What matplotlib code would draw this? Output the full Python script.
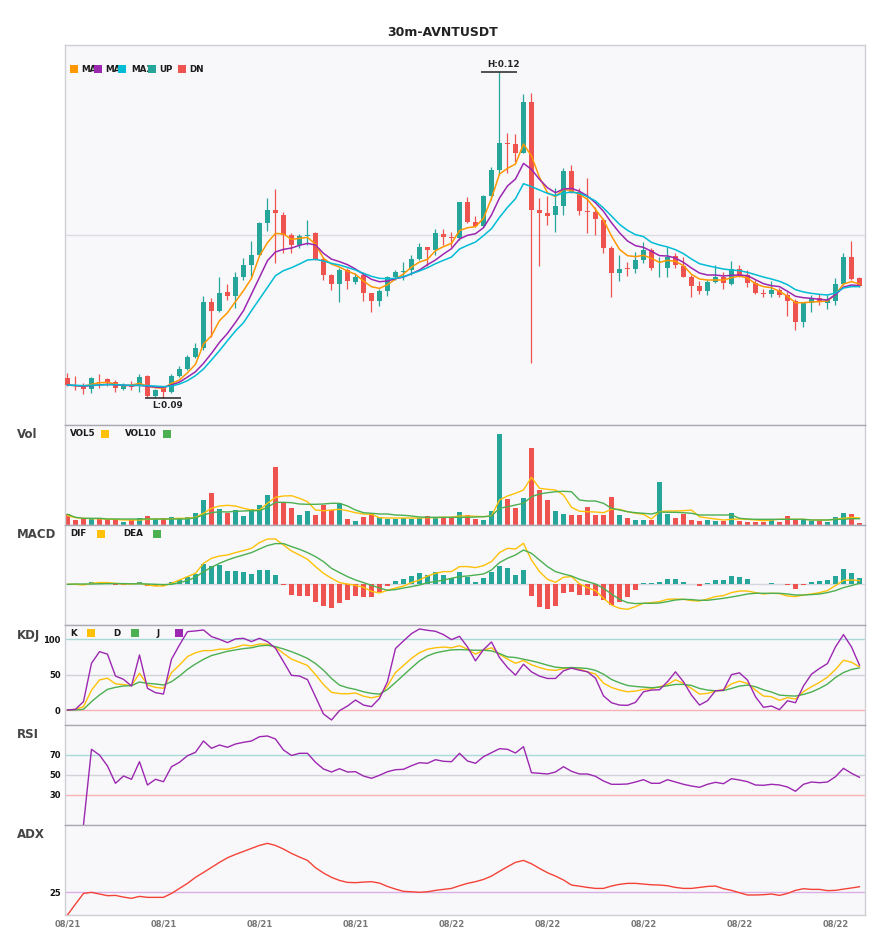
import numpy as np
import matplotlib.pyplot as plt
from matplotlib.patches import Rectangle
from matplotlib.transforms import Bbox

# candle prices, in units of 0.0001 USDT
opens = [918.1, 912.0, 910.5, 908.6, 915.0, 917.2, 914.7, 908.6, 911.4, 911.0,
         920.3, 901.9, 908.9, 905.8, 920.3, 926.7, 937.4, 945.7, 988.3, 980.4,
         997.6, 993.9, 1011.7, 1022.4, 1031.6, 1061.3, 1073.0, 1068.4, 1050.0, 1040.8,
         1049.1, 1051.5, 1027.6, 1013.2, 1004.9, 1017.8, 1007.1, 1013.2, 996.3, 989.6,
         998.8, 1011.0, 1015.9, 1017.8, 1027.9, 1038.6, 1036.2, 1050.9, 1047.8, 1046.9,
         1080.0, 1061.6, 1058.6, 1085.9, 1109.8, 1134.9, 1133.7, 1125.7, 1172.0, 1073.0,
         1070.5, 1068.4, 1076.7, 1108.9, 1089.9, 1072.4, 1071.5, 1063.8, 1038.3, 1014.7,
         1019.9, 1019.0, 1027.0, 1036.2, 1019.3, 1019.9, 1030.7, 1021.5, 1011.7, 1003.4,
         998.8, 1007.1, 1011.7, 1004.9, 1018.4, 1013.2, 1006.1, 996.3, 995.7, 999.4,
         994.8, 989.3, 970.3, 987.7, 991.7, 987.7, 989.6, 1004.9, 1030.1, 1010.8]
highs = [922.7, 920.3, 913.5, 919.7, 922.1, 918.1, 916.6, 914.1, 916.0, 921.8,
         921.2, 908.0, 910.5, 922.1, 929.5, 939.6, 950.3, 993.9, 991.7, 1011.7,
         1004.9, 1016.3, 1028.5, 1044.5, 1062.3, 1084.3, 1092.3, 1071.5, 1051.5, 1050.6,
         1063.8, 1053.1, 1029.4, 1014.1, 1019.3, 1019.3, 1014.7, 1016.2, 996.9, 1000.0,
         1012.3, 1017.8, 1025.4, 1031.6, 1042.9, 1039.2, 1055.2, 1055.2, 1053.1, 1080.7,
         1084.6, 1067.5, 1086.8, 1112.2, 1200.3, 1143.5, 1142.9, 1179.7, 1180.3, 1083.7,
         1085.9, 1092.9, 1111.3, 1114.4, 1092.9, 1102.1, 1076.0, 1065.3, 1039.9, 1031.6,
         1025.4, 1034.0, 1043.2, 1037.7, 1030.1, 1038.6, 1033.1, 1029.4, 1013.2, 1008.0,
         1008.6, 1022.4, 1015.6, 1026.1, 1022.4, 1017.8, 1008.6, 1000.0, 1008.0, 1000.9,
         997.9, 990.8, 988.6, 994.8, 995.7, 994.8, 1010.1, 1033.1, 1044.5, 1011.7]
lows = [911.0, 907.4, 903.7, 904.9, 908.9, 911.0, 905.8, 907.4, 907.4, 905.8,
        901.3, 901.3, 899.7, 904.9, 919.7, 925.8, 936.5, 944.2, 956.4, 979.5,
        990.2, 982.5, 1008.6, 1011.7, 1030.7, 1053.7, 1024.5, 1033.1, 1033.1, 1037.7,
        1040.8, 1027.0, 1008.6, 999.4, 988.6, 1000.0, 1004.9, 989.6, 979.4, 984.7,
        993.9, 1008.6, 1008.6, 1013.2, 1027.0, 1021.5, 1031.6, 1040.8, 1039.2, 1045.4,
        1060.7, 1057.6, 1057.6, 1082.2, 1105.2, 1106.7, 1117.5, 1125.1, 931.9, 1021.5,
        1059.2, 1053.1, 1068.4, 1088.9, 1068.4, 1052.1, 1050.0, 1033.1, 993.3, 1008.0,
        1012.3, 1015.3, 1024.5, 1017.8, 1011.0, 1011.0, 1019.3, 1011.0, 993.3, 995.7,
        994.8, 1005.5, 1000.3, 1004.0, 1011.0, 1002.5, 995.7, 992.6, 993.3, 992.6,
        975.5, 962.6, 965.0, 979.5, 985.6, 981.6, 985.6, 1004.0, 1008.6, 1002.5]
closes = [912.0, 911.0, 908.0, 918.1, 914.1, 913.5, 908.9, 912.0, 910.5, 919.7,
          901.9, 907.4, 905.8, 920.3, 926.7, 937.4, 945.7, 988.7, 980.4, 996.3,
          994.2, 1011.7, 1022.4, 1031.6, 1061.3, 1073.0, 1069.9, 1050.0, 1040.8, 1049.1,
          1050.0, 1027.6, 1013.2, 1004.9, 1017.8, 1008.0, 1011.0, 996.9, 989.6, 998.5,
          1011.0, 1015.9, 1017.2, 1027.6, 1038.6, 1036.2, 1051.5, 1048.5, 1046.9, 1080.0,
          1061.6, 1058.6, 1085.9, 1109.8, 1134.3, 1133.7, 1125.7, 1172.0, 1073.0, 1070.5,
          1067.5, 1076.7, 1108.9, 1089.9, 1072.4, 1071.5, 1064.4, 1038.3, 1014.7, 1018.7,
          1019.0, 1027.0, 1036.2, 1019.3, 1019.9, 1030.1, 1022.4, 1011.7, 1003.4, 998.8,
          1007.1, 1011.7, 1005.5, 1018.4, 1012.3, 1006.1, 996.9, 995.7, 999.4, 994.8,
          989.3, 970.3, 987.7, 991.7, 988.6, 990.2, 1004.9, 1030.1, 1009.2, 1003.4]

ma5 = [912, 911.4, 911, 912.6, 914.1, 914.4, 912.9, 911.4, 912, 913.5,
       911, 909.5, 908.9, 913.5, 916.6, 923.3, 931, 949.7, 957.4, 971.2,
       978.5, 988.7, 998.8, 1010.1, 1030.7, 1043, 1051.5, 1050.9, 1046, 1046.9,
       1047.8, 1041.7, 1028.5, 1023.2, 1020.5, 1016.9, 1013.8, 1007.7, 1002.4, 1000.9,
       1004.3, 1009.5, 1014.1, 1020.5, 1025.1, 1027.6, 1035.6, 1039.3, 1042.3, 1054,
       1056.7, 1057.7, 1065.3, 1083.7, 1106.1, 1111.3, 1115.3, 1133.7, 1122.7, 1103,
       1088.9, 1085.3, 1092.3, 1090.5, 1087.4, 1082.8, 1073.6, 1063.8, 1049.1, 1036.8,
       1031, 1030.1, 1031.3, 1028.5, 1024.8, 1026.7, 1025.8, 1021.8, 1013.8, 1009.5,
       1008.6, 1008.6, 1008.6, 1010.7, 1012.3, 1010.4, 1005.2, 1002.5, 1001.5, 998.2,
       993.6, 987.7, 987.7, 988.4, 988.7, 989.3, 995.4, 1004.9, 1007.1, 1004.9]
ma10 = [912, 911.4, 911, 911.4, 912, 912.6, 912.3, 911.7, 911.4, 911.7,
        910.8, 910.1, 909.8, 912, 914.7, 919.3, 924.2, 931.9, 941.1, 951.2,
        959.5, 969.6, 980.4, 995.7, 1011, 1026.4, 1034.4, 1036.8, 1038, 1040.5,
        1042.3, 1040.8, 1033.1, 1027.8, 1025.5, 1022.7, 1018.7, 1013.8, 1009.2, 1007,
        1007.7, 1009.8, 1011.3, 1014.4, 1017.8, 1022.7, 1027, 1032.5, 1037.4, 1046.3,
        1049.7, 1051.2, 1056.7, 1068.4, 1084, 1095.1, 1101.5, 1115.9, 1110.4, 1101.2,
        1093.5, 1088.9, 1092.3, 1092.9, 1090.2, 1085.9, 1079.6, 1071.8, 1061.3, 1052.1,
        1044.5, 1040.2, 1038.6, 1035, 1031, 1030.7, 1028.8, 1024.8, 1019.6, 1015,
        1013.2, 1013.2, 1012.3, 1012.9, 1013.2, 1012.6, 1008.9, 1005.2, 1003.4, 1002.5,
        998.2, 993.6, 992.3, 991.7, 990.8, 990.2, 995.1, 1002.1, 1004, 1003.4]
ma20 = [912, 911.7, 911.4, 911.7, 912, 912.3, 912.3, 912, 911.7, 911.7,
        911.4, 911, 910.5, 911, 912.9, 916, 920.6, 926.7, 935, 943.6,
        952.8, 961.7, 969.3, 980.4, 991.1, 1001.8, 1012.6, 1017.2, 1019.9, 1023.3,
        1027, 1027.6, 1026.1, 1023.9, 1022.4, 1020.2, 1017.8, 1014.7, 1012, 1010.1,
        1009.8, 1010.1, 1011.6, 1014.4, 1016.9, 1019.9, 1023.6, 1026.7, 1029.7, 1037.1,
        1040.5, 1043.5, 1049.4, 1055.8, 1066.2, 1075.4, 1083.4, 1097.2, 1094.5, 1091.4,
        1088.3, 1086.2, 1088.6, 1089.5, 1088.3, 1085.3, 1081.3, 1074.8, 1067.5, 1059.8,
        1054.3, 1050.3, 1048.5, 1043.2, 1040.8, 1039, 1036.5, 1032.8, 1027.9, 1023.6,
        1021.8, 1020.2, 1018.7, 1017.8, 1017.2, 1015.6, 1013.5, 1011.3, 1009.5, 1007.4,
        1004.3, 999.7, 997.6, 996.3, 995.4, 994.8, 996.6, 1001.2, 1002.5, 1002.5]

# volume in thousands
volume = [107, 50, 67, 67, 63, 57, 57, 33, 50, 67,
          90, 57, 67, 77, 73, 77, 117, 250, 320, 157,
          123, 150, 90, 157, 200, 300, 580, 223, 173, 100,
          143, 100, 200, 150, 217, 60, 40, 83, 110, 77,
          63, 60, 73, 60, 73, 90, 83, 77, 73, 130,
          100, 60, 50, 140, 910, 260, 173, 270, 770, 350,
          250, 140, 110, 100, 100, 177, 100, 100, 280, 100,
          70, 50, 50, 53, 430, 110, 70, 110, 50, 40,
          50, 40, 40, 117, 40, 30, 30, 30, 60, 33,
          90, 50, 50, 40, 40, 30, 80, 120, 110, 20]
vol5 = [93, 73, 67, 63, 63, 57, 57, 50, 50, 50,
        57, 60, 60, 63, 67, 67, 77, 117, 167, 190,
        197, 190, 167, 150, 150, 217, 277, 290, 293, 267,
        233, 150, 143, 150, 157, 143, 123, 110, 107, 73,
        70, 70, 70, 70, 70, 73, 73, 77, 77, 90,
        90, 87, 83, 90, 250, 290, 317, 350, 477, 367,
        357, 350, 300, 177, 138, 133, 130, 123, 157, 157,
        133, 117, 107, 60, 133, 140, 140, 143, 150, 83,
        70, 60, 50, 57, 60, 57, 50, 43, 50, 57,
        57, 57, 57, 50, 50, 50, 57, 67, 77, 70]
vol10 = [107, 77, 67, 67, 67, 60, 60, 60, 60, 60,
         60, 60, 60, 60, 60, 60, 73, 100, 123, 133,
         130, 137, 140, 143, 143, 177, 227, 227, 223, 210,
         207, 207, 210, 217, 217, 190, 150, 123, 117, 110,
         110, 100, 97, 90, 80, 77, 77, 77, 77, 77,
         77, 80, 83, 90, 167, 183, 200, 217, 283, 310,
         323, 333, 337, 333, 250, 240, 240, 217, 167, 150,
         133, 123, 117, 110, 130, 127, 127, 123, 117, 100,
         100, 100, 100, 100, 67, 60, 57, 57, 57, 57,
         57, 57, 57, 50, 50, 50, 57, 57, 63, 63]

# MACD in units of 1e-5
dif = [0, 0, -0.7, 1, 1.7, 1.7, 1, 0.3, 0.3, 1,
       -0.7, -1.7, -1.7, 1, 4.3, 7.7, 11, 21, 26, 28.3,
       29.3, 31.7, 33.7, 36, 41.7, 45.3, 45.3, 39.3, 33.3, 29.3,
       25, 17.7, 11, 6, 1.7, 0.3, -1, -3, -7, -8.7,
       -6, -3.7, -1.7, 1.7, 4.3, 8.3, 11, 12.7, 12.7, 17.7,
       17.7, 16.7, 18.7, 22.7, 31.7, 36, 35.3, 41, 24.3, 12.7,
       5, 2, 7, 7.7, 0.5, -3.3, -6.3, -14, -20.7, -24,
       -25, -22.3, -19, -18.3, -17.3, -15, -14.7, -15, -16.3, -16.7,
       -14.7, -12.3, -11.3, -8.3, -6.7, -6.7, -8.3, -9.7, -9, -9.3,
       -11.7, -12.3, -10.7, -9.7, -8.3, -6.3, -1.3, 4, 4.3, 3.7]
dea = [0, 0.3, 0.3, 0.3, 0.5, 0.7, 0.7, 0.7, 0.5, 0.5,
       0.3, 0, -0.3, 0, 1.7, 3.7, 7, 12.7, 17, 21,
       24.3, 27, 29.3, 31.7, 35.3, 38.7, 40.7, 40.7, 37.7, 35,
       31.7, 27.7, 22.7, 16, 11.7, 7.7, 4.3, 1.7, -1, -3.7,
       -6, -5.3, -3.7, -2.3, -0.7, 1.7, 2.7, 4.3, 6, 7.7,
       8.3, 9.3, 10.3, 14.3, 21.7, 26, 29.3, 34.3, 31, 24.3,
       17.7, 12.7, 10.3, 8.3, 5, 2.7, 0.3, -4, -9.7, -15,
       -18.3, -19.3, -19, -19, -18.7, -17.3, -15.7, -15, -15.3, -16,
       -16, -15, -14, -12.7, -11.3, -9.7, -9, -9, -9, -9,
       -9.7, -10.7, -10.7, -10.3, -9.7, -8.3, -6.3, -3.3, -1.3, 1]
macd_hist = [0, 0, 0, 2, 1.3, 1, -0.7, -0.7, 0, 2,
             -1.3, -1.3, -1.3, 2, 4.3, 7.7, 10.3, 20.3, 18.3, 19.3,
             13.3, 13.3, 12.3, 10.3, 14.3, 14.3, 9.3, -0.7, -10.7, -11.7,
             -11.7, -17.3, -21.3, -23.3, -18.3, -15.7, -11.7, -12.3, -12.3, -7.3,
             -1.7, 3.3, 5.3, 8.3, 11, 9.3, 12, 9.3, 6.7, 12.7,
             7.7, 2.7, 6.3, 12.7, 18.3, 16.7, 9.3, 14.7, -11.3, -22.3,
             -25, -21.3, -8.3, -7.3, -10.7, -10.7, -11.7, -15.7, -21, -17.3,
             -13, -5.7, 1, 1, 2, 5.3, 5.3, 2, 0.3, -1.3,
             1, 4.3, 4.3, 8.3, 7.7, 5.3, 0.7, 0, 1, 0,
             -0.7, -4.7, -0.7, 2, 3.3, 4.3, 8.7, 15.3, 11.7, 6.7]

k_line = [0, 1, 4.7, 28, 42.5, 45, 37, 36, 34.4, 52,
          35.4, 32, 30.7, 52.8, 63.7, 75.5, 81, 84, 84, 86,
          86, 88.7, 92, 90.6, 93.4, 93, 88.7, 80, 72, 67.5,
          63, 50, 36, 25, 23.2, 22.9, 24.1, 19.5, 17.2, 19.7,
          34, 53, 63, 73, 81, 86, 88, 89, 88, 91,
          86, 79, 84.5, 88, 79, 72, 66, 70, 64, 60,
          57, 56, 58.7, 59.2, 58, 54, 51, 38, 31.9, 28.2,
          25.8, 26.8, 29.1, 30, 32.9, 36, 42.7, 37.6, 30.5, 22.5,
          23.5, 26.8, 29, 37, 40.8, 37.6, 28.2, 19.7, 18.8, 13.6,
          17.4, 15.5, 26, 32.9, 39, 46.5, 57.3, 70.4, 67.6, 61]
d_line = [0, 0, 1, 11.8, 21.2, 29.2, 32, 34, 34.4, 39.6,
          37.7, 36.8, 35.4, 40, 48, 57.5, 65, 71.7, 77, 80,
          83, 85, 86.8, 88, 90.6, 91.5, 89.6, 86.3, 82.5, 78,
          73, 65.7, 56.3, 44.6, 35.2, 31.5, 29.1, 25.8, 23.5, 22.5,
          29, 39, 49.3, 59.6, 69.5, 76.5, 80.8, 83.1, 85, 85.4,
          85, 84.5, 84.5, 83.6, 79.8, 75.1, 74.2, 71.8, 69.5, 66.7,
          63.4, 60.6, 59.6, 60.1, 59.5, 58.7, 56, 50.7, 43.2, 38.5,
          34.7, 33.3, 32.4, 31.5, 32.4, 34.3, 36.2, 36.2, 34.7, 30.5,
          28.2, 27.2, 27.5, 30.5, 33.8, 35.2, 32.9, 28.6, 25.4, 21.1,
          20.2, 19.7, 22, 25.4, 30.5, 36.6, 46, 53, 57.3, 59.6]
j_line = [0, 1, 11.8, 66, 82.5, 79, 48, 43.4, 34, 77.8,
          30.7, 24.5, 22.6, 71.7, 92, 110.8, 111.8, 113.2, 103.8, 100,
          95.3, 100.5, 101.4, 96.7, 101.4, 96.7, 87.3, 68.4, 49, 48,
          43, 18.8, -5.6, -14.1, -0.9, 5.6, 14.1, 7, 4.7, 16.4,
          40, 86.9, 97.7, 108, 114.6, 112.7, 111.3, 106.6, 99.5, 104.2,
          89.2, 69.5, 85.4, 96.2, 74.2, 60.1, 49.3, 64.8, 54, 47.9,
          44.6, 44.6, 55.4, 59.2, 56.3, 54, 45, 20, 10.3, 7,
          6.6, 10.8, 25.8, 28.2, 28.6, 40, 54, 39.9, 21.1, 7,
          13.1, 27.2, 28, 50, 52.6, 42.3, 18.8, 3.8, 5.6, 0.5,
          13.1, 10.3, 34, 50.7, 58.7, 65.7, 89.2, 106.6, 89.2, 63.4]

rsi = [np.nan, np.nan, 0, 75.7, 70, 59, 41.7, 49, 45.7, 63.3,
       40, 45.7, 43.3, 58.3, 62.7, 69.3, 72.7, 84, 76.7, 80,
       77.7, 81, 82.7, 84, 88.3, 89, 86, 75, 69.5, 71.7,
       71.7, 62.7, 56, 53, 56.3, 53, 53.3, 49, 46.7, 49.7,
       53.3, 55.3, 55.7, 59.3, 62.3, 61.7, 65.3, 63.7, 63.3, 71.7,
       64, 61.7, 68.3, 72.3, 76.3, 75.7, 72, 78.3, 52.3, 51.7,
       51, 53, 58.3, 53.7, 51, 51, 48.7, 44, 40.7, 40.7,
       41, 43, 45.3, 41.7, 41.7, 45.3, 43, 40.7, 39, 37.7,
       40.7, 42.7, 41.3, 46.3, 45, 43.3, 40, 39.7, 40.7, 40,
       38, 33.7, 40.7, 43, 42.3, 43, 48.3, 56.7, 51.7, 47.7]

adx = [8.6, 16.4, 24.0, 24.8, 23.6, 22.4, 22.6, 21.4, 20.5, 21.9,
       21.2, 21.2, 21.2, 24.0, 27.6, 31.2, 35.5, 39.0, 42.6, 46.2,
       49.5, 51.9, 54.0, 56.2, 58.3, 59.8, 58.3, 55.7, 52.6, 50.0,
       47.6, 42.4, 38.6, 35.5, 33.3, 31.9, 31.7, 32.1, 32.4, 31.4,
       29.0, 27.1, 25.5, 25.2, 24.8, 25.2, 26.2, 26.9, 27.6, 29.5,
       31.2, 32.4, 34.0, 36.4, 39.8, 43.1, 46.2, 47.6, 45.2, 41.9,
       38.8, 36.4, 33.6, 30.0, 29.2, 28.3, 27.6, 27.6, 29.3, 30.5,
       31.2, 31.2, 30.7, 30.2, 30.0, 29.5, 28.3, 27.6, 27.6, 28.3,
       29.0, 29.3, 27.4, 26.2, 24.5, 22.9, 22.9, 23.1, 23.6, 22.6,
       24.0, 26.2, 27.4, 26.9, 26.9, 26.0, 26.2, 27.1, 27.9, 28.8]

date_labels = ['08/21', '08/21', '08/21', '08/21', '08/22', '08/22', '08/22', '08/22', '08/22']

PRICE_UNIT = 1e-4
MACD_UNIT = 1e-5

UP = '#26a69a'
DN = '#ef5350'
C_MA5 = '#ff9800'
C_MA10 = '#9c27b0'
C_MA20 = '#00bcd4'
YEL = '#ffc107'
GRN = '#4caf50'
PUR = '#9c27b0'
ADXC = '#f44336'
BG = '#f8f8fb'

W, H = 885, 950


def fx(px):
    return px / W


def fy(py):
    return 1 - py / H


def make_panel(fig, top, bottom):
    ax = fig.add_axes([fx(65), fy(bottom), 800 / W, (bottom - top) / H])
    ax.set_facecolor(BG)
    ax.set_xlim(-0.31, 99.69)
    for s in ax.spines.values():
        s.set_color('#cfcfd6')
        s.set_linewidth(1)
    ax.spines['top'].set_color('#a9a9b2')
    ax.tick_params(length=0, labelsize=6, pad=3)
    ax.set_xticks([])
    ax.set_yticks([])
    return ax


def legend_row(fig, y, items):
    # items: (text x, label, square x, colour); square drawn on top of text
    for i, (tx, label, sx, col) in enumerate(items):
        t = fig.text(fx(tx), fy(y), label, fontsize=6.3, fontweight='bold',
                     ha='left', va='center', color='#1a1a1a', zorder=4)
        if i + 1 < len(items):
            right = items[i + 1][2]
            t.set_clip_box(Bbox.from_extents(tx, 0, right, H))
            t.set_clip_on(True)
        fig.patches.append(Rectangle((fx(sx), fy(y + 4)), 8 / W, 8 / H,
                                     transform=fig.transFigure, facecolor=col,
                                     edgecolor='none', zorder=5))


def ref_lines(ax, levels):
    for lv, col in levels:
        ax.axhline(lv, color=col, lw=1, zorder=1)


def main():
    plt.rcParams['font.family'] = ['DejaVu Sans']
    n = len(closes)
    x = np.arange(n)
    o = np.array(opens) * PRICE_UNIT
    h = np.array(highs) * PRICE_UNIT
    l = np.array(lows) * PRICE_UNIT
    c = np.array(closes) * PRICE_UNIT
    up = c >= o
    colors = np.where(up, UP, DN)

    fig = plt.figure(figsize=(W / 100, H / 100), dpi=100)
    fig.text(0.5, fy(33), '30m-AVNTUSDT', ha='center', va='center',
             fontsize=9, fontweight='bold', color='#222')

    # price panel
    ax = make_panel(fig, 45, 425)
    ax.spines['top'].set_color('#cfcfd6')
    ax.set_ylim(0.08752, 0.12248)
    ax.axhline(0.105, color='#dcdce3', lw=1, zorder=1)
    ax.vlines(x, l, h, colors=colors, lw=0.9, zorder=2)
    body = np.maximum(np.abs(c - o), 0.00001)
    ax.bar(x, body, bottom=np.minimum(o, c), width=0.66, color=colors, zorder=3)
    ax.plot(x, np.array(ma5) * PRICE_UNIT, color=C_MA5, lw=1.1, zorder=4)
    ax.plot(x, np.array(ma10) * PRICE_UNIT, color=C_MA10, lw=1.1, zorder=4)
    ax.plot(x, np.array(ma20) * PRICE_UNIT, color=C_MA20, lw=1.1, zorder=4)

    hi = int(np.argmax(h))
    lo = int(np.argmin(l))
    ax.hlines(h[hi], hi - 2.25, hi + 2.25, color='#222', lw=1.1, zorder=5)
    ax.annotate(f'H:{h[hi]:.2f}', (hi, h[hi]), xytext=(3, 2), textcoords='offset points',
                ha='center', va='bottom', fontsize=6.3, fontweight='bold', color='#222')
    ax.hlines(l[lo], lo - 2.25, lo + 2.25, color='#222', lw=1.1, zorder=5)
    ax.annotate(f'L:{l[lo]:.2f}', (lo, l[lo]), xytext=(3, -2), textcoords='offset points',
                ha='center', va='top', fontsize=6.3, fontweight='bold', color='#222')

    legend_row(fig, 69, [(81, 'MA5', 70, C_MA5), (105, 'MA10', 94, C_MA10),
                         (131, 'MA20', 118, C_MA20), (159, 'UP', 148, UP),
                         (189, 'DN', 178, DN)])

    # volume
    axv = make_panel(fig, 425, 525)
    axv.set_ylim(0, 1000)
    axv.bar(x, volume, width=0.7, color=colors, zorder=2)
    axv.plot(x, vol5, color=YEL, lw=1, zorder=3)
    axv.plot(x, vol10, color=GRN, lw=1, zorder=3)
    legend_row(fig, 434, [(70, 'VOL5', 101, YEL), (125, 'VOL10', 163, GRN)])

    # MACD
    axm = make_panel(fig, 525, 625)
    axm.set_ylim(-40.7 * MACD_UNIT, 59.3 * MACD_UNIT)
    ref_lines(axm, [(0, '#d6d6dd')])
    hist = np.array(macd_hist) * MACD_UNIT
    axm.bar(x, hist, width=0.7, color=np.where(hist >= 0, UP, DN), zorder=2)
    axm.plot(x, np.array(dif) * MACD_UNIT, color=YEL, lw=1, zorder=3)
    axm.plot(x, np.array(dea) * MACD_UNIT, color=GRN, lw=1, zorder=3)
    legend_row(fig, 534, [(70, 'DIF', 97, YEL), (123, 'DEA', 153, GRN)])

    # KDJ
    axk = make_panel(fig, 625, 725)
    axk.set_ylim(-21.2, 120.2)
    ref_lines(axk, [(100, '#a9d9d6'), (50, '#d2d2d9'), (0, '#f7b3b3')])
    axk.plot(x, k_line, color=YEL, lw=1, zorder=3)
    axk.plot(x, d_line, color=GRN, lw=1, zorder=3)
    axk.plot(x, j_line, color=PUR, lw=1, zorder=3)
    axk.set_yticks([0, 50, 100])
    legend_row(fig, 633, [(70, 'K', 87, YEL), (113, 'D', 131, GRN), (157, 'J', 175, PUR)])

    # RSI
    axr = make_panel(fig, 725, 825)
    axr.set_ylim(0, 100)
    ref_lines(axr, [(70, '#a9d9d6'), (50, '#d2d2d9'), (30, '#f7b3b3')])
    axr.plot(x, rsi, color=PUR, lw=1, zorder=3)
    axr.set_yticks([30, 50, 70])

    # ADX
    axa = make_panel(fig, 825, 915)
    axa.set_ylim(8.6, 72.9)
    ref_lines(axa, [(25, '#dcaee6')])
    axa.plot(x, adx, color=ADXC, lw=1, zorder=3)
    axa.set_yticks([25])
    axa.set_xticks(range(0, n, 12))
    axa.set_xticklabels(date_labels)

    for a in (axk, axr, axa):
        for t in a.get_yticklabels():
            t.set_fontweight('bold')
            t.set_color('#111')
    for t in axa.get_xticklabels():
        t.set_fontweight('bold')
        t.set_color('#777')

    for name, ypx in (('Vol', 435), ('MACD', 535), ('KDJ', 635), ('RSI', 735), ('ADX', 835)):
        fig.text(fx(17), fy(ypx), name, fontsize=8.5, fontweight='bold',
                 ha='left', va='center', color='#444')

    fig.savefig('out.png', dpi=100, facecolor='white')


if __name__ == '__main__':
    main()
